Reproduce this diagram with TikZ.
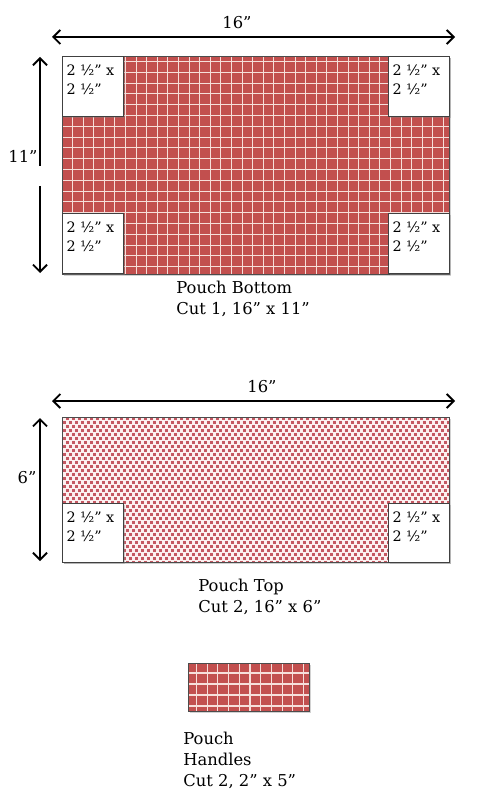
\documentclass[tikz,border=0pt]{standalone}
\usepackage{fontspec}
\setmainfont{DejaVu Serif}
\usetikzlibrary{arrows.meta,positioning,shadows}

\definecolor{plaidred}{RGB}{194,79,78}
\definecolor{plaidline}{RGB}{246,222,218}
\definecolor{dotred}{RGB}{196,88,98}
\definecolor{dotbg}{RGB}{252,240,240}

\begin{document}
\begin{tikzpicture}[
    x=0.02cm, y=-0.02cm,
    dimarrow/.style={-{Straight Barb[length=1.4mm,width=2.8mm]}, line width=1.1pt},
    dimboth/.style={{Straight Barb[length=1.4mm,width=2.8mm]}-{Straight Barb[length=1.4mm,width=2.8mm]}, line width=1.1pt},
    dimlabel/.style={font=\fontsize{9.3}{11}\selectfont, inner sep=1pt},
    caption/.style={align=left, anchor=west, inner sep=0pt, font=\fontsize{9.3}{11.9}\selectfont},
    cornerbox/.style={draw=black!75, fill=white, line width=0.5pt, minimum width=1.22cm, minimum height=1.2cm, anchor=north west, inner sep=0pt,
        drop shadow={shadow xshift=1.1pt, shadow yshift=-1.1pt, opacity=0.35}},
    cornertext/.style={anchor=north west, align=left, inner sep=0pt, xshift=2.4pt, yshift=-4.6pt, font=\fontsize{8.2}{10.8}\selectfont},
    fabric/.style={draw=black!70, line width=0.5pt},
    fabricshadow/.style={fill=black!35, opacity=0.5},
    gridline/.style={draw=plaidline, line width=0.6pt}
]
\useasboundingbox (0,0) rectangle (484,800);

% Pouch bottom
\fill[fabricshadow] (64,58) rectangle (451,276);
\begin{scope}
  \clip (62,56) rectangle (449,274);
  \fill[plaidred] (62,56) rectangle (449,274);
  \foreach \gx in {72.5,83.1,...,449} \draw[gridline] (\gx,56) -- (\gx,274);
  \foreach \gy in {61.5,72.3,...,274} \draw[gridline] (62,\gy) -- (449,\gy);
\end{scope}
\draw[fabric] (62,56) rectangle (449,274);

\node[cornerbox] (btl) at (62,56) {};
\node[cornerbox] (btr) at (388,56) {};
\node[cornerbox] (bbl) at (62,213) {};
\node[cornerbox] (bbr) at (388,213) {};
\node[cornertext] (btltext) at (btl.north west) {2 ½” x\\2 ½”};
\node[cornertext] (btrtext) at (btr.north west) {2 ½” x\\2 ½”};
\node[cornertext] (bbltext) at (bbl.north west) {2 ½” x\\2 ½”};
\node[cornertext] (bbrtext) at (bbr.north west) {2 ½” x\\2 ½”};

% Dimensions, bottom
\coordinate (bw) at (52,37);
\coordinate (be) at (455,37);
\draw[dimboth] (bw) -- (be);
\node[dimlabel] (bwidth) at (237,23) {16”};
\coordinate (bup) at (40,166);
\coordinate (btop) at (40,57);
\coordinate (bdown) at (40,186);
\coordinate (bbot) at (40,273);
\draw[dimarrow] (bup) -- (btop);
\draw[dimarrow] (bdown) -- (bbot);
\node[dimlabel] (bheight) at (23,156) {11”};

\node[caption] (bcap) at (176,299) {Pouch Bottom\\Cut 1, 16” x 11”};

% Pouch top
\fill[fabricshadow] (64,419) rectangle (451,564);
\begin{scope}
  \clip (62,417) rectangle (449,562);
  \fill[dotbg] (62,417) rectangle (449,562);
  \foreach \r in {0,...,36} {
    \pgfmathsetmacro{\dy}{417+\r*4}
    \pgfmathsetmacro{\dx}{60+mod(\r,2)*3}
    \foreach \c in {0,...,65}
      \fill[dotred] ({\dx+\c*6},\dy) rectangle ++(2.8,2.6);
  }
\end{scope}
\draw[fabric] (62,417) rectangle (449,562);

\node[cornerbox, minimum height=1.18cm] (tbl) at (62,503) {};
\node[cornerbox, minimum height=1.18cm] (tbr) at (388,503) {};
\node[cornertext] (tbltext) at (tbl.north west) {2 ½” x\\2 ½”};
\node[cornertext] (tbrtext) at (tbr.north west) {2 ½” x\\2 ½”};

% Dimensions, top
\coordinate (tw) at (52,401);
\coordinate (te) at (455,401);
\draw[dimboth] (tw) -- (te);
\node[dimlabel] (twidth) at (262,387) {16”};
\coordinate (ttop) at (40,418);
\coordinate (tbot) at (40,561);
\draw[dimboth] (ttop) -- (tbot);
\node[dimlabel] (theight) at (27,478) {6”};

\node[caption] (tcap) at (198,597) {Pouch Top\\Cut 2, 16” x 6”};

% Handles
\fill[fabricshadow] (190,665) rectangle (311,713);
\begin{scope}
  \clip (188,663) rectangle (309,711);
  \fill[plaidred] (188,663) rectangle (309,711);
  \foreach \gx in {196.5,207.2,...,309} \draw[gridline] (\gx,663) -- (\gx,711);
  \foreach \gy in {673,684,...,711} \draw[gridline] (188,\gy) -- (309,\gy);
\end{scope}
\draw[fabric] (188,663) rectangle (309,711);

\node[caption] (hcap) at (183,760) {Pouch\\Handles\\Cut 2, 2” x 5”};

\end{tikzpicture}
\end{document}
